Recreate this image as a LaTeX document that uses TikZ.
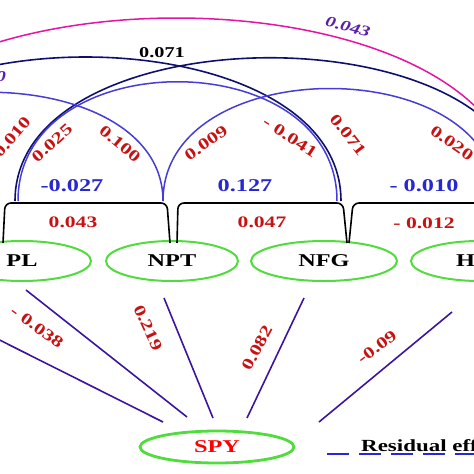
\documentclass[tikz,border=0pt]{standalone}
\usepackage{fontspec}
\setmainfont{Liberation Serif}
\usepackage{graphicx}
\usepackage{xcolor}
\usetikzlibrary{shapes}
\definecolor{cGreen}{RGB}{80,220,60}
\definecolor{cRed}{RGB}{200,18,18}
\definecolor{cBlue}{RGB}{40,40,210}
\definecolor{cPurple}{RGB}{90,30,170}
\definecolor{cNavy}{RGB}{15,15,110}
\definecolor{cArc}{RGB}{70,60,215}
\definecolor{cMagenta}{RGB}{230,20,160}
\definecolor{cPath}{RGB}{60,20,160}
\newcommand{\wtxt}[1]{\scalebox{1.35}[1]{#1}}
\tikzset{var/.style={ellipse,draw=cGreen,line width=2pt,minimum width=138pt,
   minimum height=40pt,inner sep=0pt,font=\bfseries\fontsize{18}{18}\selectfont},
 redlab/.style={text=cRed,inner sep=0pt,font=\bfseries\fontsize{16}{16}\selectfont},
 bluelab/.style={text=cBlue,inner sep=0pt,font=\bfseries\fontsize{18}{18}\selectfont},
 blacklab/.style={text=black,inner sep=0pt,font=\bfseries\fontsize{15}{15}\selectfont},
 purplab/.style={text=cPurple,inner sep=0pt,font=\bfseries\itshape\fontsize{15}{15}\selectfont},
 bracket/.style={draw=black,line width=1.6pt,rounded corners=6pt},
 navyarc/.style={draw=cNavy,line width=1.6pt},
 bluearc/.style={draw=cArc,line width=1.5pt},
 pinkarc/.style={draw=cMagenta,line width=1.5pt},
 pathline/.style={draw=cPath,line width=1.6pt},
 resid/.style={draw=cBlue,line width=1.6pt,dash pattern=on 22pt off 10pt},
 }

\begin{document}
\begin{tikzpicture}[x=1pt,y=-1pt]
\useasboundingbox (0,0) rectangle (474,474);
\clip (0,0) rectangle (474,474);

\node[var] (PL) at (22,261) {\wtxt{PL}};
\node[var,minimum width=132pt] (NPT) at (172,261) {\wtxt{NPT}};
\node[var,minimum width=146pt] (NFG) at (324,261) {\wtxt{NFG}};
\node[var] (H) at (480,261) {\makebox[48pt][l]{\wtxt{H}}};
\node[var,minimum width=154pt,minimum height=32pt,line width=2.8pt,text=red] (SPY) at (217,447) {\wtxt{SPY}};

\draw[bracket] (3,243) -- (5,203) -- (167,203) -- (170,243);
\draw[bracket] (177,243) -- (178,203) -- (343,203) -- (347,243);
\draw[bracket] (349,243) -- (353,203) -- (490,203);

\coordinate (pl1) at (15,201);
\coordinate (pl2) at (18,201);
\coordinate (npt1) at (163,201);
\coordinate (nfg1) at (337,201);
\coordinate (nfg2) at (341,201);
\coordinate (h1) at (497,201);
\coordinate (h2) at (525,201);
\coordinate (h3) at (518,201);
\coordinate (w1) at (-170,201);
\coordinate (w2) at (-183,201);
\coordinate (w3) at (-165,201);

\draw[pinkarc] (w3) .. controls +(0,-244) and +(0,-244) .. (h3);
\draw[navyarc] (pl1) .. controls +(0,-191) and +(0,-191) .. (h2);
\draw[navyarc] (w1) .. controls +(0,-192) and +(0,-192) .. (nfg2);
\draw[bluearc] (pl2) .. controls +(0,-159) and +(0,-159) .. (nfg1);
\draw[bluearc] (w2) .. controls +(0,-145) and +(0,-145) .. (npt1);
\draw[bluearc] (npt1) .. controls +(0,-150) and +(0,-150) .. (h1);

\node[redlab,rotate=50] (l010) at (12,137) {\wtxt{0.010}};
\node[redlab,rotate=42] (l025) at (52,143) {\wtxt{0.025}};
\node[redlab,rotate=-40] (l100) at (120,144) {\wtxt{0.100}};
\node[redlab,rotate=35] (l009) at (206,143) {\wtxt{0.009}};
\node[redlab,rotate=-33] (l041) at (290,137) {\wtxt{- 0.041}};
\node[redlab,rotate=-52] (l071) at (348,135) {\wtxt{0.071}};
\node[redlab,rotate=-35] (l020) at (452,143) {\wtxt{0.020}};
\node[blacklab] (t071) at (162,53) {\wtxt{0.071}};
\node[purplab,rotate=-15] (t043) at (348,27) {\wtxt{0.043}};
\node[purplab] (t0) at (1,77) {\wtxt{0}};

\node[bluelab] (b027) at (72,186) {\wtxt{-0.027}};
\node[bluelab] (b127) at (245,186) {\wtxt{0.127}};
\node[bluelab] (b010) at (424,186) {\wtxt{- 0.010}};
\node[redlab] (r043) at (73,222) {\wtxt{0.043}};
\node[redlab] (r047) at (262,222) {\wtxt{0.047}};
\node[redlab] (r012) at (424,223) {\wtxt{- 0.012}};

\coordinate (x1) at (-120,280);
\coordinate (x2) at (26,290);
\coordinate (x3) at (164,298);
\coordinate (x4) at (304,298);
\coordinate (x5) at (452,312);
\coordinate (s1) at (163,422);
\coordinate (s2) at (187,417);
\coordinate (s3) at (213,418);
\coordinate (s4) at (247,418);
\coordinate (s5) at (319,422);
\draw[pathline] (x1) -- (s1);
\draw[pathline] (x2) -- (s2);
\draw[pathline] (x3) -- (s3);
\draw[pathline] (x4) -- (s4);
\draw[pathline] (x5) -- (s5);

\node[redlab,rotate=-36] (p038) at (37,327) {\wtxt{- 0.038}};
\node[redlab,rotate=-65] (p219) at (148,328) {\wtxt{0.219}};
\node[redlab,rotate=62] (p082) at (257,348) {\wtxt{0.082}};
\node[redlab,rotate=37] (p09) at (377,347) {\wtxt{-0.09}};

\coordinate (leg) at (327,454);
\draw[resid] (leg) -- (490,454);
\node[blacklab,anchor=base west,font=\bfseries\fontsize{17}{17}\selectfont] (res) at (361,451) {\wtxt{Residual effect}};
\end{tikzpicture}
\end{document}
